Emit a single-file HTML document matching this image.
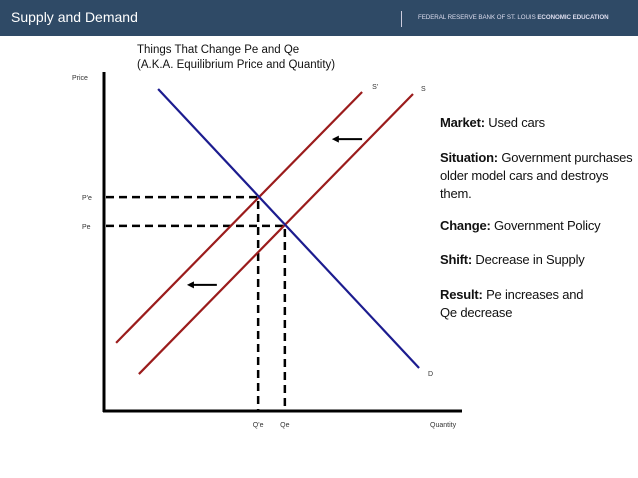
<!DOCTYPE html>
<html><head><meta charset="utf-8"><style>
body{margin:0;width:638px;height:478px;background:#fff;overflow:hidden;font-family:"Liberation Sans",sans-serif;position:relative}
.hdr{position:absolute;left:0;top:0;width:638px;height:36px;background:#2f4a66}
.t{position:absolute;white-space:nowrap}
.r{position:absolute;left:440px;font-size:13px;letter-spacing:-0.2px;color:#111;line-height:18px;white-space:nowrap}
</style></head><body>
<div class="hdr"></div>
<div class="t" style="left:11px;top:9px;color:#fff;font-size:14px">Supply and Demand</div>
<div class="t" style="left:401px;top:11px;width:1px;height:16px;background:#ccd"></div>
<div class="t" style="left:418px;top:14px;color:#dde;font-size:6.2px;letter-spacing:-0.05px">FEDERAL RESERVE BANK OF ST. LOUIS <b>ECONOMIC EDUCATION</b></div>
<div class="t" style="left:137px;top:43px;font-size:11.5px;line-height:15px;color:#111">Things That Change Pe and Qe<br>(A.K.A. Equilibrium Price and Quantity)</div>
<div class="r" style="top:114px"><b>Market:</b> Used cars</div>
<div class="r" style="top:149px"><b>Situation:</b> Government purchases<br>older model cars and destroys<br>them.</div>
<div class="r" style="top:217px"><b>Change:</b> Government Policy</div>
<div class="r" style="top:251px"><b>Shift:</b> Decrease in Supply</div>
<div class="r" style="top:286px"><b>Result:</b> Pe increases and<br>Qe decrease</div>
<svg id="chart" width="638" height="478" style="position:absolute;left:0;top:0" font-family="Liberation Sans, sans-serif"></svg>
<script>
const demand=[[15.2,95],[88.5,12.7]];
const supply=[[9.8,10.9],[86.8,93.5]];
const supplyShifted=[[3.4,20.1],[72.5,94.1]];
const eqOld=[50.8,54.6];
const eqNew=[43.3,63.1];
const arrows=[[72.5,64,80.2],[31.7,23.3,37.2]];
const X=v=>104+v*3.56, Y=v=>411-v*3.39;
const svg=document.getElementById('chart');
const NS='http://www.w3.org/2000/svg';
function mk(tag,attrs,name){const e=document.createElementNS(NS,tag);for(const k in attrs)e.setAttribute(k,attrs[k]);


svg.appendChild(e);return e;}
function txt(x,y,s,name,anchor){const e=mk('text',{x:x,y:y,'font-size':7,fill:'#333','text-anchor':anchor||'start'},name);e.textContent=s;}
mk('line',{x1:104,y1:72,x2:104,y2:412,stroke:'#000','stroke-width':3},'y-axis');
mk('line',{x1:103,y1:411,x2:462,y2:411,stroke:'#000','stroke-width':3},'x-axis');
txt(72,80,'Price','y-axis-title');
txt(430,427,'Quantity','x-axis-title');
function eq(p,name){mk('path',{d:`M${X(0)+2},${Y(p[1])}H${X(p[0])}V${Y(0)}`,fill:'none',stroke:'#000','stroke-width':2.5,'stroke-dasharray':'8,5'},name);}
eq(eqNew,'new-equilibrium-dashes');eq(eqOld,'old-equilibrium-dashes');
function ln(d,c,name){mk('line',{x1:X(d[0][0]),y1:Y(d[0][1]),x2:X(d[1][0]),y2:Y(d[1][1]),stroke:c,'stroke-width':2.2},name);}
ln(supplyShifted,'#9b1c1c','supply-shifted-line');
ln(supply,'#9b1c1c','supply-line');
ln(demand,'#1c1c8f','demand-line');
arrows.forEach((a,i)=>{mk('line',{x1:X(a[0]),y1:Y(a[2]),x2:X(a[1])+4,y2:Y(a[2]),stroke:'#000','stroke-width':2},'shift-arrow-'+i);
mk('path',{d:`M${X(a[1])},${Y(a[2])}l7,-3.5v7z`,fill:'#000'},'shift-arrowhead-'+i);});
txt(X(eqNew[0]),427,"Q'e",'qe-new-label','middle');
txt(X(eqOld[0]),427,'Qe','qe-label','middle');
txt(82,Y(eqNew[1])+3,"P'e",'pe-new-label');
txt(82,Y(eqOld[1])+3,'Pe','pe-label');
txt(X(supplyShifted[1][0])+10,Y(supplyShifted[1][1])-3,"S'",'supply-shifted-label');
txt(X(supply[1][0])+8,Y(supply[1][1])-3,'S','supply-label');
txt(X(demand[1][0])+9,Y(demand[1][1])+8,'D','demand-label');
</script>
</body></html>
